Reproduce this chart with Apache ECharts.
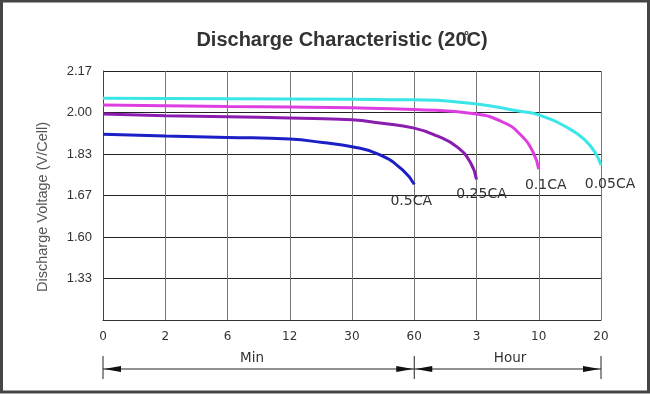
<!DOCTYPE html>
<html>
<head>
<meta charset="utf-8">
<script src="https://cdn.jsdelivr.net/npm/echarts@6/dist/echarts.min.js"></script>
<style>
html,body{margin:0;padding:0;background:#fff;}
#chart{width:650px;height:394px;}
</style>
</head>
<body>
<div id="chart"></div>
<script>
// X axis: evenly spaced ticks, values in minutes
const xTickMinutes = [0, 2, 6, 12, 30, 60, 180, 600, 1200];
const xTickLabels = ['0', '2', '6', '12', '30', '60', '3', '10', '20'];
// Y axis: evenly spaced ticks (bottom tick unlabeled)
const yTickVolts = [1.33, 1.60, 1.67, 1.83, 2.00, 2.17];
const yTickLabels = ['', '1.33', '1.60', '1.67', '1.83', '2.00', '2.17'];

const seriesNames = ['0.5CA', '0.25CA', '0.1CA', '0.05CA'];
const t05  = [0, 2, 6, 12, 21.5, 30, 43.5, 54.6, 60];
const v05  = [1.911, 1.904, 1.898, 1.891, 1.877, 1.860, 1.827, 1.767, 1.713];
const t025 = [0, 2, 6, 12, 30, 43.5, 60, 104, 143, 168, 180];
const v025 = [1.994, 1.987, 1.983, 1.977, 1.970, 1.957, 1.936, 1.904, 1.858, 1.798, 1.732];
const t01  = [0, 6, 30, 60, 180, 360, 474, 562, 600];
const v01  = [2.031, 2.025, 2.019, 2.012, 1.994, 1.960, 1.911, 1.837, 1.771];
const t005 = [0, 6, 30, 60, 180, 453, 600, 901, 1046, 1142, 1200];
const v005 = [2.058, 2.056, 2.054, 2.052, 2.035, 2.007, 1.990, 1.932, 1.887, 1.837, 1.787];

function timeToPos(t) {
  for (let i = 0; i < xTickMinutes.length - 1; i++) {
    if (t <= xTickMinutes[i + 1]) return i + (t - xTickMinutes[i]) / (xTickMinutes[i + 1] - xTickMinutes[i]);
  }
  return xTickMinutes.length - 1;
}
function voltToPos(v) {
  for (let i = 0; i < yTickVolts.length - 1; i++) {
    if (v <= yTickVolts[i + 1]) return 1 + i + (v - yTickVolts[i]) / (yTickVolts[i + 1] - yTickVolts[i]);
  }
  return yTickVolts.length;
}
function build(ts, vs) { return ts.map((t, i) => [timeToPos(t), voltToPos(vs[i])]); }

const colors = ['#1c1fc4', '#8a1cb0', '#de3ee0', '#3ae6e8'];
const datasets = [build(t05, v05), build(t025, v025), build(t01, v01), build(t005, v005)];
const labelOffsets = [[-3, 17], [5, 15], [7, 16], [9, 19]];

const chart = echarts.init(document.getElementById('chart'), null, {renderer: 'canvas'});
const option = {
  animation: false,
  backgroundColor: '#fff',
  grid: {left: 103, right: 49, top: 71, bottom: 74},
  xAxis: {
    type: 'value', min: 0, max: 8, interval: 1,
    axisLine: {show: true, lineStyle: {color: '#333', width: 1}},
    axisTick: {show: false},
    axisLabel: {formatter: v => xTickLabels[v] ?? '', color: '#333', fontFamily: 'DejaVu Sans', fontSize: 12, margin: 11},
    splitLine: {show: true, lineStyle: {color: '#777', width: 1}}
  },
  yAxis: {
    type: 'value', min: 0, max: 6, interval: 1,
    axisLine: {show: true, lineStyle: {color: '#444', width: 1}},
    axisTick: {show: false},
    axisLabel: {formatter: v => yTickLabels[v] ?? '', color: '#333', fontFamily: 'Liberation Sans, Arial', fontSize: 13, margin: 11},
    splitLine: {show: true, lineStyle: {color: '#222', width: 1}}
  },
  series: datasets.map((d, i) => ({
    type: 'line', name: seriesNames[i], data: d,
    showSymbol: false, smooth: 0.5,
    lineStyle: {color: colors[i], width: 3}, z: 3 + i
  }))
};
chart.setOption(option);

const p = (x, y) => chart.convertToPixel({gridIndex: 0}, [x, y]);
const graphics = [];
// outer frame
graphics.push({type: 'rect', shape: {x: 1.5, y: 1, width: 647, height: 391}, style: {fill: null, stroke: '#454545', lineWidth: 3}, silent: true});
// title
graphics.push({type: 'text', x: 342, y: 40, style: {text: 'Discharge Characteristic (20\u030AC)', fill: '#333', font: 'bold 20px "Liberation Sans", Arial, sans-serif', textAlign: 'center', textVerticalAlign: 'middle'}});
// y axis name
graphics.push({type: 'text', x: 43, y: 207, rotation: Math.PI / 2, style: {text: 'Discharge Voltage (V/Cell)', fill: '#555', font: '14.5px "Liberation Sans", Arial, sans-serif', textAlign: 'center', textVerticalAlign: 'middle'}});
// curve labels
datasets.forEach((d, i) => {
  const last = d[d.length - 1];
  const pt = p(last[0], last[1]);
  graphics.push({type: 'text', x: pt[0] + labelOffsets[i][0], y: pt[1] + labelOffsets[i][1], z: 20,
    style: {text: seriesNames[i], fill: '#333', font: '14px "DejaVu Sans", sans-serif', textAlign: 'center', textVerticalAlign: 'middle'}});
});
// Min / Hour dimension arrows
const x0 = p(0, 0)[0], x60 = p(timeToPos(60), 0)[0], xEnd = p(8, 0)[0];
const ay = 369;
[x0, x60, xEnd].forEach(x => graphics.push({type: 'line', shape: {x1: x, y1: 356, x2: x, y2: 379}, style: {stroke: '#222', lineWidth: 1}}));
[[x0, x60], [x60, xEnd]].forEach(([a, b]) => {
  graphics.push({type: 'line', shape: {x1: a, y1: ay, x2: b, y2: ay}, style: {stroke: '#222', lineWidth: 1}});
  graphics.push({type: 'polygon', shape: {points: [[a + 1, ay], [a + 18, ay - 3], [a + 18, ay + 3]]}, style: {fill: '#111'}});
  graphics.push({type: 'polygon', shape: {points: [[b - 1, ay], [b - 18, ay - 3], [b - 18, ay + 3]]}, style: {fill: '#111'}});
});
graphics.push({type: 'text', x: 252, y: 358, style: {text: 'Min', fill: '#333', font: '13.5px "DejaVu Sans", sans-serif', textAlign: 'center', textVerticalAlign: 'middle'}});
graphics.push({type: 'text', x: 510, y: 358, style: {text: 'Hour', fill: '#333', font: '13.5px "DejaVu Sans", sans-serif', textAlign: 'center', textVerticalAlign: 'middle'}});
chart.setOption({graphic: graphics});
</script>
</body>
</html>
